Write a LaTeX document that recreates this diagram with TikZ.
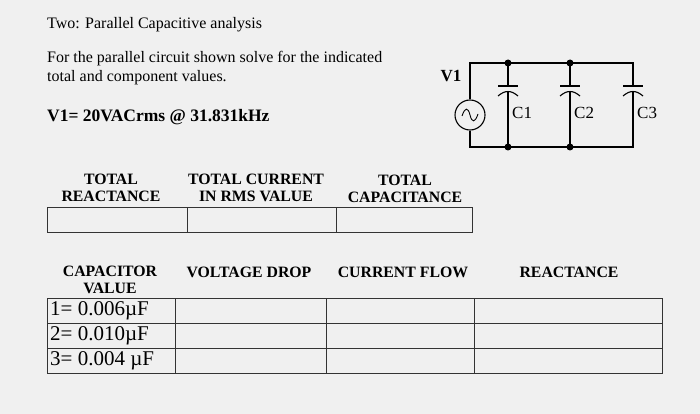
\documentclass[tikz,border=0pt]{standalone}
\usepackage{fontspec}
\setmainfont{Liberation Serif}
\begin{document}
\begin{tikzpicture}[x=1pt,y=-1pt,
 txt/.style={anchor=west,inner sep=0pt,font=\fontsize{16}{18.5}\selectfont},
 hd/.style={align=center,inner sep=0pt,font=\bfseries\fontsize{15.8}{17}\selectfont},
 cell/.style={draw=black!80,line width=0.8pt},
 wire/.style={line width=1.1pt},
 dot/.style={circle,fill,inner sep=0pt,minimum size=7pt}]
\fill[gray!12] (0,0) rectangle (700,414);
\useasboundingbox (0,0) rectangle (700,414);
\node[txt] (t1) at (47,25) {Two: Parallel Capacitive analysis};
\node[txt,align=left,anchor=north west,font=\fontsize{16}{19}\selectfont] (t2) at (47,51) {For the parallel circuit shown solve for the indicated\\total and component values.};
\node[txt,font=\bfseries\fontsize{17.5}{19}\selectfont] (t3) at (47,117) {V1= 20VACrms @ 31.831kHz};
% circuit
\coordinate (tl) at (470,63); \coordinate (bl) at (470,147);
\coordinate (tr) at (633,63); \coordinate (br) at (633,147);
\node[draw,circle,line width=1.1pt,minimum size=30pt,inner sep=0pt] (src) at (470,115) {};
\draw[line width=0.9pt] (462,116) .. controls (465,107) and (468,107) .. (470,115) .. controls (472,123) and (475,123) .. (478,114);
\draw[wire] (src.north) -- (tl) -- (tr) -- (633,86);
\draw[wire] (src.south) -- (bl) -- (br) -- (633,93);
\node[font=\bfseries\fontsize{17}{19}\selectfont] (v1) at (451,76) {V1};
\foreach \x/\n in {508/1,570/2,633/3}{
 \draw[wire] (\x,63) -- (\x,86);
 \draw[wire] (\x-10,86) -- (\x+10,86);
 \draw[wire] (\x-10,96) .. controls (\x-3,90) and (\x+3,90) .. (\x+10,96);
 \draw[wire] (\x,92) -- (\x,147);
 \node[anchor=west,font=\fontsize{17}{19}\selectfont,inner sep=0pt] (c\n) at (\x+4,113) {C\n};
}
\foreach \x in {508,570}{\node[dot] at (\x,63) {}; \node[dot] at (\x,147) {};}
% table 1
\node[hd] (h1) at (111,188) {TOTAL\\REACTANCE};
\node[hd] (h2) at (256,188) {TOTAL CURRENT\\IN RMS VALUE};
\node[hd] (h3) at (405,189) {TOTAL\\CAPACITANCE};
\draw[cell] (47,207) rectangle (472,232);
\draw[cell] (187,207) -- (187,232) (336,207) -- (336,232);
% table 2
\node[hd] (h4) at (110,280) {CAPACITOR\\VALUE};
\node[hd] (h5) at (249,272) {VOLTAGE DROP};
\node[hd] (h6) at (403,272) {CURRENT FLOW};
\node[hd] (h7) at (569,272) {REACTANCE};
\draw[cell] (47,298) rectangle (662,373);
\draw[cell] (47,323) -- (662,323) (47,348) -- (662,348);
\foreach \x in {175,326,474} \draw[cell] (\x,298) -- (\x,373);
\node[txt,font=\fontsize{21}{23}\selectfont] (r1) at (50,311) {1= 0.006µF};
\node[txt,font=\fontsize{21}{23}\selectfont] (r2) at (50,336) {2= 0.010µF};
\node[txt,font=\fontsize{21}{23}\selectfont] (r3) at (50,361) {3= 0.004 µF};
\end{tikzpicture}
\end{document}
